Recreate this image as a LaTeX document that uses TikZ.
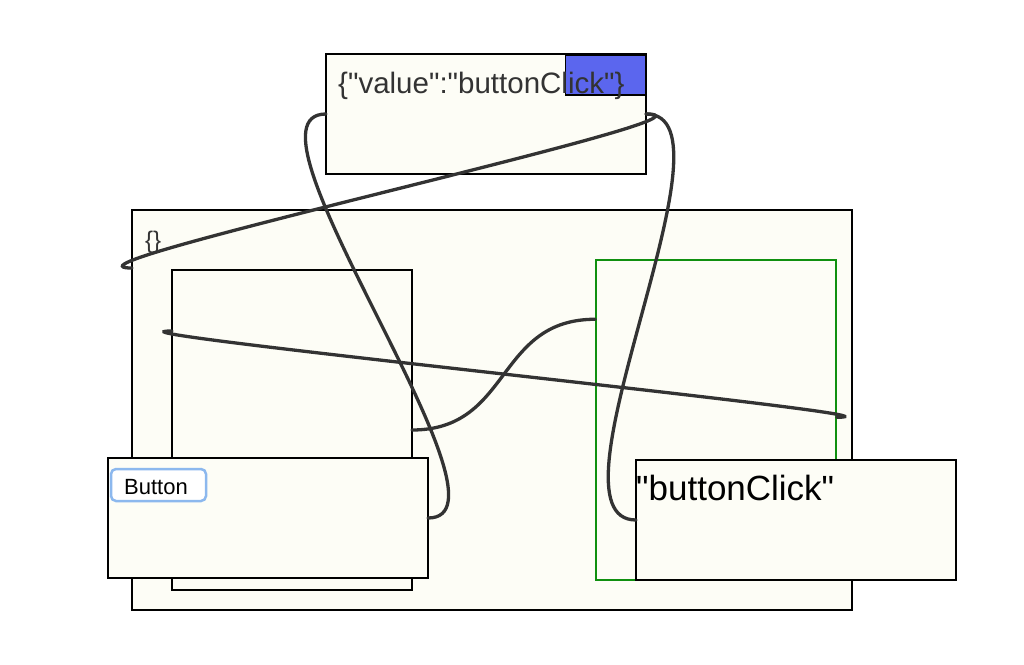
\documentclass[tikz,border=0pt]{standalone}
\usepackage{fontspec}
\setmainfont{Liberation Sans}[Ligatures=TeXOff]
\usetikzlibrary{positioning}
\usetikzlibrary{calc}
\definecolor{paper}{RGB}{253,253,246}
\definecolor{wire}{RGB}{51,51,51}
\definecolor{slot}{RGB}{91,102,238}
\definecolor{frame}{RGB}{16,144,16}
\definecolor{btnedge}{RGB}{140,184,238}
\tikzstyle{panel} = [draw=black,line width=1.5pt,fill=paper,inner sep=0pt,outer sep=0pt]
\tikzstyle{wiring} = [draw=wire,line width=3.3pt,line cap=round]

\begin{document}
\begin{tikzpicture}[x=1pt,y=-1pt,
      label node/.style={inner sep=0pt,anchor=base west,text=wire},
      box node/.style={panel,minimum width=320pt,minimum height=120pt}]
  \useasboundingbox (0,0) rectangle (1024,664);

  % outer object and its children
  \node[panel,minimum width=720pt,minimum height=400pt] (OBJ) at (492,410) {};
  \node[label node,font=\fontsize{24}{24}\selectfont] (OBJL) at (145,248) {\{\}};
  \node[panel,minimum width=240pt,minimum height=320pt] (LEFT) at (292,430) {};
  \node[draw=frame,line width=1.5pt,inner sep=0pt,minimum width=240pt,minimum height=320pt] (GREEN) at (716,420) {};

  % value boxes
  \node[box node] (TOP) at (486,114) {};
  \node[draw=black,line width=1.5pt,fill=slot,inner sep=0pt,minimum width=80pt,minimum height=40pt] (SLOT) [below left=0pt and 0pt of TOP.north east] {};
  \node[label node,font=\fontsize{29.5}{29.5}\selectfont] (TOPL) at (338,93) {\{"value":"buttonClick"\}};
  \node[box node] (BTN) at (268,518) {};
  \node[draw=btnedge,line width=2.5pt,fill=white,rounded corners=5pt,minimum width=95pt,minimum height=32pt] (BUTTON) at (158.5,485) {};
  \node[label node,text=black,font=\fontsize{22}{22}\selectfont] (BUTTONL) at (124,494) {Button};
  \node[box node] (CLICK) at (796,520) {};
  \node[label node,text=black,font=\fontsize{35}{35}\selectfont] (CLICKL) at (636,500) {"buttonClick"};

  % ports
  \coordinate (OBJIN) at ($(OBJ.north west)+(0,58)$);
  \coordinate (LEFTIN) at ($(LEFT.north west)+(0,61)$);
  \coordinate (GREENIN) at ($(GREEN.north west)+(0,60)$);
  \coordinate (GREENOUT) at ($(GREEN.north east)+(0,158)$);

  \path[wiring]
  (TOP.west) edge [out=180, in=0, distance=100pt] (BTN.east)
  (TOP.east) edge [out=0, in=180, distance=100pt] (CLICK.west)
  (TOP.east) edge [out=0, in=180, distance=100pt] (OBJIN)
  (LEFTIN) edge [out=180, in=0, distance=100pt] (GREENOUT)
  (LEFT.east) edge [out=0, in=180, distance=100pt] (GREENIN);
\end{tikzpicture}
\end{document}
